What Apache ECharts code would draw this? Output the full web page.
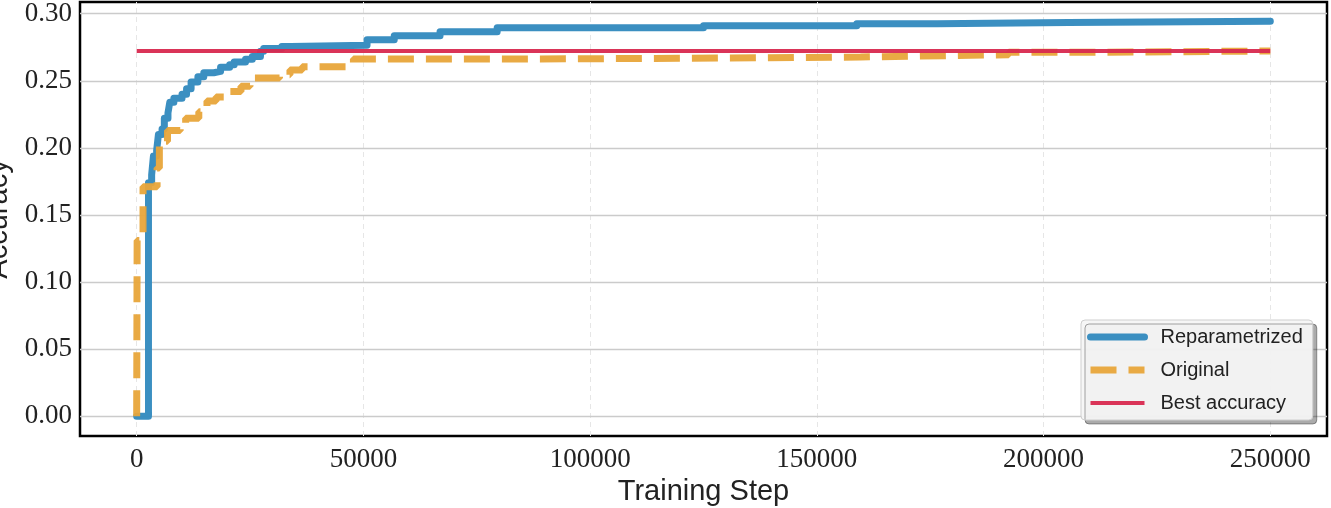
<!DOCTYPE html>
<html>
<head>
<meta charset="utf-8">
<script src="https://cdn.jsdelivr.net/npm/echarts@6/dist/echarts.min.js"></script>
<style>
html,body{margin:0;padding:0;background:#fff;}
#chart{width:1331px;height:508px;}
</style>
</head>
<body>
<div id="chart"></div>
<script>
// Reparametrized (running best accuracy, step-after)
const repSteps = [0, 2600, 3300, 3700, 4400, 4800, 5600, 6100, 6900, 7300, 8200, 10000, 11000, 12000, 13500, 14800, 17000, 18500, 20500, 21500, 24000, 25500, 27300, 28000, 32000, 34000, 50800, 56800, 66900, 79500, 125000, 158800, 176500, 205500, 250000];
const repAcc   = [0, 0.174, 0.180, 0.194, 0.198, 0.210, 0.214, 0.222, 0.226, 0.234, 0.237, 0.240, 0.244, 0.249, 0.253, 0.256, 0.257, 0.260, 0.262, 0.264, 0.266, 0.268, 0.272, 0.274, 0.2755, 0.2765, 0.2806, 0.2836, 0.2866, 0.2895, 0.2910, 0.2925, 0.2935, 0.2943, 0.2943];
// Original
const origSteps = [0, 100, 800, 1400, 4500, 5000, 6800, 9600, 10800, 13700, 15500, 17500, 20400, 23000, 25000, 31500, 33800, 36500, 47800, 85700, 121700, 159600, 178300, 192300, 210600, 250000];
const origAcc   = [0, 0.131, 0.136, 0.171, 0.185, 0.205, 0.213, 0.2147, 0.222, 0.227, 0.235, 0.238, 0.242, 0.246, 0.252, 0.2545, 0.258, 0.2605, 0.2662, 0.2668, 0.2677, 0.2687, 0.2694, 0.2712, 0.2722, 0.2722];
// Best accuracy reference line
const bestSteps = [0, 250000];
const bestAcc = [0.2722, 0.2722];
// Tick labels
const xTicks = [0, 50000, 100000, 150000, 200000, 250000];
const yTicks = [0.00, 0.05, 0.10, 0.15, 0.20, 0.25, 0.30];

const zip = (xs, ys) => xs.map((x, i) => [x, ys[i]]);

const chart = echarts.init(document.getElementById('chart'), null, {renderer: 'canvas'});
const tickFont = 'Liberation Serif';
const sansFont = 'Liberation Sans';

chart.setOption({
  animation: false,
  backgroundColor: '#ffffff',
  grid: {
    left: 80, top: 2, width: 1247, height: 434,
    containLabel: false, outerBoundsMode: 'none',
    show: true, borderColor: '#000', borderWidth: 2.5, backgroundColor: 'transparent'
  },
  xAxis: {
    type: 'value', min: -12500, max: 262500,
    axisLine: {show: false},
    axisTick: {show: false},
    axisLabel: {customValues: xTicks, fontFamily: tickFont, fontSize: 27, color: '#222', margin: 10,
      formatter: v => String(v)},
    splitLine: {show: false},
    name: 'Training Step', nameLocation: 'middle', nameGap: 36,
    nameTextStyle: {fontFamily: sansFont, fontSize: 29, color: '#222'}
  },
  yAxis: {
    type: 'value', min: -0.0147, max: 0.3087,
    axisLine: {show: false},
    axisTick: {show: false},
    axisLabel: {customValues: yTicks, fontFamily: tickFont, fontSize: 27, color: '#222', margin: 8,
      formatter: v => v.toFixed(2)},
    splitLine: {show: false},
    name: 'Accuracy', nameLocation: 'middle', nameGap: 63, nameRotate: 90,
    nameTextStyle: {fontFamily: sansFont, fontSize: 29, color: '#222'}
  },
  legend: {
    orient: 'vertical', left: 1081, top: 320,
    padding: [7, 10, 7, 6], itemWidth: 54, itemHeight: 14, itemGap: 13,
    backgroundColor: 'rgba(246,246,246,0.95)', borderColor: '#cfcfcf', borderWidth: 1, borderRadius: 4,
    shadowColor: 'rgba(0,0,0,0.35)', shadowOffsetX: 4, shadowOffsetY: 4, shadowBlur: 0,
    textStyle: {fontFamily: sansFont, fontSize: 20, color: '#222', padding: [0, 0, 0, 11]},
    itemStyle: {opacity: 0},
    lineStyle: {width: 'inherit', type: 'inherit'},
    data: ['Reparametrized', 'Original', 'Best accuracy']
  },
  series: [
    {
      name: 'gridlines', type: 'line', data: [], silent: true, z: 1,
      markLine: {
        silent: true, symbol: 'none', label: {show: false}, animation: false, z: 1,
        data: [
          ...xTicks.map(v => ({xAxis: v, lineStyle: {color: '#e6e6e6', width: 1, type: [5, 4]}})),
          ...yTicks.map(v => ({yAxis: v, lineStyle: {color: '#cbcbcb', width: 1.4, type: 'solid'}}))
        ]
      }
    },
    {
      name: 'Reparametrized', type: 'line', step: 'end', showSymbol: false, symbol: 'none',
      data: zip(repSteps, repAcc),
      lineStyle: {color: '#358BBF', width: 7, cap: 'round', join: 'round', opacity: 0.97},
      itemStyle: {color: '#358BBF'}, z: 2
    },
    {
      name: 'Original', type: 'line', step: 'end', showSymbol: false, symbol: 'none',
      data: zip(origSteps, origAcc),
      lineStyle: {color: '#E8A53A', width: 7, type: [26, 12], cap: 'butt', opacity: 0.95},
      itemStyle: {color: '#E8A53A'}, z: 3
    },
    {
      name: 'Best accuracy', type: 'line', showSymbol: false, symbol: 'none',
      data: zip(bestSteps, bestAcc),
      lineStyle: {color: '#D8294F', width: 4, opacity: 0.95},
      itemStyle: {color: '#D8294F'}, z: 4
    }
  ]
});
</script>
</body>
</html>
